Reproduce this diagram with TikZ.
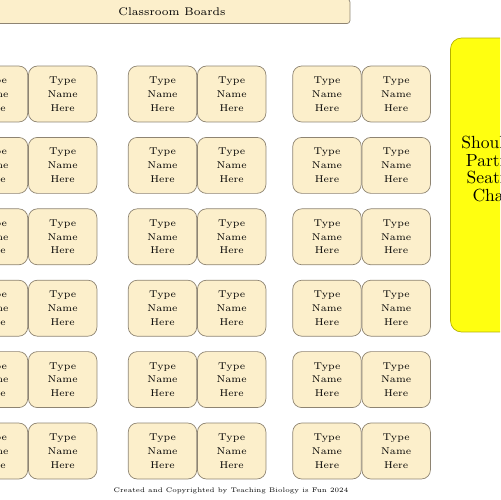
\documentclass[tikz,border=0pt]{standalone}
\usepackage{tikz}
\usetikzlibrary{positioning}

\definecolor{deskfill}{HTML}{FCEFCB}
\definecolor{deskline}{HTML}{8E8472}
\definecolor{chartfill}{HTML}{FFFF10}
\definecolor{chartline}{HTML}{B5B000}

\begin{document}
\begin{tikzpicture}[
    x=0.02cm, y=-0.02cm,
    desk/.style={draw=deskline, fill=deskfill, rounded corners=1.8mm, minimum width=1.37cm, minimum height=1.12cm, inner sep=0pt, align=center, font=\fontsize{5.6}{7.9}\selectfont},
    boards/.style={draw=deskline, fill=deskfill, rounded corners=0.6mm, minimum width=7.12cm, minimum height=0.49cm, inner sep=0pt, font=\fontsize{6.3}{8}\selectfont},
    chartbox/.style={draw=chartline, fill=chartfill, rounded corners=2.2mm, minimum width=1.9cm, minimum height=5.88cm, inner sep=0pt},
    chartlabel/.style={align=center, font=\fontsize{10}{10}\selectfont},
    credit/.style={font=\fontsize{3.8}{5}\selectfont}
]
    \clip (0,0) rectangle (500,500);
    \useasboundingbox (0,0) rectangle (500,500);

    \node [boards] (board) at (172,11.3) {Classroom Boards};

    % six rows, three pairs of desks in each
    \foreach \r [evaluate=\r as \y using 94+71.4*(\r-1)] in {1,...,6} {
        \foreach \p/\x in {a/-6.5, b/162.5, c/327} {
            \node [desk] (d\p\r-l) at (\x,\y) {Type\\Name\\Here};
            \node [desk, right=0pt of d\p\r-l] (d\p\r-r) {Type\\Name\\Here};
        }
    }

    \node [chartbox] (chart) at (498,185) {};
    \node [chartlabel] (chartname) at (495,169) {Shoulder\\Partner\\Seating\\Chart};

    \node [credit] (copyright) at (231,491) {Created and Copyrighted by Teaching Biology is Fun 2024};
\end{tikzpicture}
\end{document}
